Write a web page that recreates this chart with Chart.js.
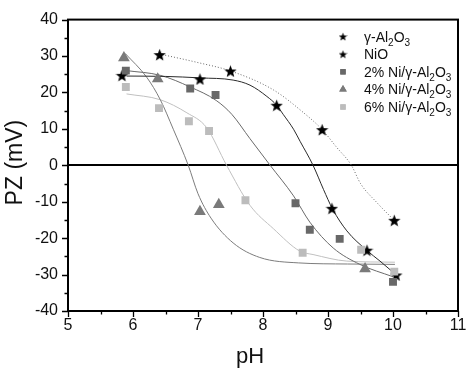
<!DOCTYPE html>
<html><head><meta charset="utf-8">
<script src="https://cdn.jsdelivr.net/npm/chart.js@4.4.1/dist/chart.umd.min.js"></script>
<style>html,body{margin:0;padding:0;background:#fff}#wrap{width:474px;height:375px;position:relative}</style>
</head><body><div id="wrap"><canvas id="c" width="474" height="375"></canvas></div>
<script>
// ---- data ----
const seriesNames = ['γ-Al2O3', 'NiO', '2% Ni/γ-Al2O3', '4% Ni/γ-Al2O3', '6% Ni/γ-Al2O3'];
const xTitle = 'pH';
const yTitle = 'PZ (mV)';

const alPH  = [5.83, 7.03, 8.21, 9.06, 9.60, 10.05];
const alPZ  = [24.7, 23.7, 16.5, -11.8, -23.3, -30.1];
const nioPH = [6.41, 7.50, 8.91, 10.02];
const nioPZ = [30.4, 25.9, 9.8, -15.1];
const ni2PH = [5.89, 6.88, 7.27, 8.50, 8.72, 9.18, 10.00];
const ni2PZ = [26.0, 21.1, 19.3, -10.4, -17.7, -20.2, -32.0];
const ni4PH = [5.86, 6.38, 7.03, 7.32, 9.57];
const ni4PZ = [29.5, 23.7, -12.7, -10.8, -28.4];
const ni6PH = [5.89, 6.40, 6.86, 7.17, 7.73, 8.61, 9.51, 10.02];
const ni6PZ = [21.5, 15.7, 12.1, 9.4, -9.6, -24.0, -23.2, -29.2];

// fitted curves
const alFitPH  = [5.90, 6.50, 7.03, 7.54, 7.80, 8.06, 8.21, 8.31, 8.47, 8.57, 8.77, 8.93, 9.07, 9.29, 9.60, 9.80, 10.05];
const alFitPZ  = [24.5, 24.4, 24.0, 23.4, 22.0, 18.9, 16.5, 14.0, 9.9, 6.6, 0.0, -6.6, -12.0, -18.0, -23.4, -26.3, -30.1];
const nioFitPH = [6.45, 7.00, 7.50, 8.16, 8.62, 8.91, 9.13, 9.36, 9.50, 9.75, 10.00];
const nioFitPZ = [30.4, 28.2, 25.9, 20.7, 14.5, 9.8, 5.0, 0.0, -5.0, -10.2, -14.8];
const ni2FitPH = [5.90, 6.42, 6.88, 7.28, 7.52, 7.80, 8.11, 8.47, 8.72, 9.08, 9.49, 10.00];
const ni2FitPZ = [26.0, 24.7, 21.5, 17.8, 14.0, 7.3, 0.0, -8.4, -15.6, -22.7, -27.2, -30.6];
const ni4FitPH = [5.88, 6.21, 6.42, 6.62, 6.85, 7.00, 7.20, 7.54, 7.95, 8.55, 9.30, 10.03];
const ni4FitPZ = [30.7, 24.2, 18.0, 9.9, 0.0, -7.8, -14.5, -21.3, -25.3, -26.8, -27.1, -27.2];
const ni6FitPH = [5.90, 6.42, 6.83, 7.13, 7.44, 7.80, 8.16, 8.57, 8.77, 9.29, 10.03];
const ni6FitPZ = [19.6, 18.0, 14.4, 10.4, 0.0, -11.0, -17.4, -23.6, -24.5, -26.3, -26.6];

const xTicksMajor = [5, 6, 7, 8, 9, 10, 11];
const yTicksMajor = [-40, -30, -20, -10, 0, 10, 20, 30, 40];

// ---- helpers ----
const FONT = '"Liberation Sans", Arial, Helvetica, sans-serif';
function pts(xs, ys) { return xs.map((x, i) => ({x: x, y: ys[i]})); }
function makeStar(size) {
  const c = document.createElement('canvas');
  c.width = size; c.height = size;
  const g = c.getContext('2d');
  const R = size / 2, r = R * 0.42, cx = size / 2, cy = size / 2 + size * 0.05;
  g.beginPath();
  for (let i = 0; i < 10; i++) {
    const rad = i % 2 === 0 ? R : r;
    const a = -Math.PI / 2 + i * Math.PI / 5;
    const px = cx + rad * Math.cos(a), py = cy + rad * Math.sin(a);
    if (i === 0) g.moveTo(px, py); else g.lineTo(px, py);
  }
  g.closePath(); g.fillStyle = '#000'; g.fill();
  return c;
}
const starBig = makeStar(13);
const starSmall = makeStar(9);

const colStar = '#000000', col2 = '#686868', col4 = '#7a7a7a', col6 = '#bcbcbc';

function fitLine(data, color, dash) {
  return {type: 'scatter', data: data, showLine: true, pointRadius: 0, pointHoverRadius: 0,
    borderColor: color, borderWidth: 1, borderDash: dash || [], fill: false,
    cubicInterpolationMode: 'monotone', order: 5};
}
function markers(data, style, color, radius) {
  return {type: 'scatter', data: data, showLine: false, pointStyle: style, pointRadius: radius,
    pointHoverRadius: radius, backgroundColor: color, borderColor: color, borderWidth: 0, order: 1};
}

const datasets = [
  fitLine(pts(alFitPH, alFitPZ), '#2a2a2a'),
  fitLine(pts(nioFitPH, nioFitPZ), '#666666', [1, 2]),
  fitLine(pts(ni2FitPH, ni2FitPZ), '#6a6a6a'),
  fitLine(pts(ni4FitPH, ni4FitPZ), '#7c7c7c'),
  fitLine(pts(ni6FitPH, ni6FitPZ), '#c0c0c0'),
  Object.assign(markers(pts(ni6PH, ni6PZ), 'rect', col6, 5.6), {label: seriesNames[4]}),
  Object.assign(markers(pts(ni4PH, ni4PZ), 'triangle', col4, 6.8), {label: seriesNames[3]}),
  Object.assign(markers(pts(ni2PH, ni2PZ), 'rect', col2, 5.6), {label: seriesNames[2]}),
  Object.assign(markers(pts(nioPH, nioPZ), starBig, colStar, 6), {label: seriesNames[1]}),
  Object.assign(markers(pts(alPH, alPZ), starBig, colStar, 6), {label: seriesNames[0]})
];

const legendStyles = [
  {style: starSmall, color: colStar, r: 4},
  {style: starSmall, color: colStar, r: 4},
  {style: 'rect', color: col2, r: 3.8},
  {style: 'triangle', color: col4, r: 4.4},
  {style: 'rect', color: col6, r: 3.8}
];

function drawRich(ctx, text, x, y, size) {
  let prev = '';
  for (const ch of text) {
    const sub = /[0-9]/.test(ch) && /[A-Za-z]/.test(prev);
    ctx.font = (sub ? Math.round(size * 0.7) : size) + 'px ' + FONT;
    ctx.fillText(ch, x, sub ? y + 4 : y);
    x += ctx.measureText(ch).width;
    prev = ch;
  }
}

const framePlugin = {
  id: 'frame',
  afterDraw(chart) {
    const ctx = chart.ctx, a = chart.chartArea;
    const xs = chart.scales.x, ys = chart.scales.y;
    ctx.save();
    ctx.strokeStyle = '#000';
    // ticks
    ctx.lineWidth = 1.3;
    ctx.beginPath();
    for (let v = 5; v <= 11.001; v += 0.5) {
      const px = Math.round(xs.getPixelForValue(v)) + 0.5;
      const major = Math.abs(v - Math.round(v)) < 1e-6;
      ctx.moveTo(px, a.bottom); ctx.lineTo(px, a.bottom + (major ? 6 : 3.5));
    }
    for (let v = -40; v <= 40.001; v += 5) {
      const py = Math.round(ys.getPixelForValue(v)) + 0.5;
      const major = v % 10 === 0;
      ctx.moveTo(a.left, py); ctx.lineTo(a.left - (major ? 6 : 3.5), py);
    }
    ctx.stroke();
    // frame
    ctx.lineWidth = 2;
    ctx.strokeRect(a.left, a.top, a.right - a.left, a.bottom - a.top);
    // axis titles
    ctx.fillStyle = '#111';
    ctx.textAlign = 'center'; ctx.textBaseline = 'middle';
    ctx.font = '22px ' + FONT;
    ctx.fillText(xTitle, a.left + 182, a.bottom + 46);
    ctx.save();
    ctx.translate(16, a.top + 143);
    ctx.rotate(-Math.PI / 2);
    ctx.font = '23px ' + FONT;
    ctx.fillText(yTitle, 0, 0);
    ctx.restore();
    // legend
    const mx = a.right - 115, tx = a.right - 94, y0 = a.top + 17, dy = 17.6;
    ctx.textAlign = 'left'; ctx.textBaseline = 'alphabetic';
    legendStyles.forEach((st, i) => {
      const y = y0 + i * dy;
      ctx.fillStyle = st.color; ctx.strokeStyle = st.color;
      Chart.helpers.drawPoint(ctx, {pointStyle: st.style, radius: st.r, rotation: 0, borderWidth: 0}, mx, y);
      ctx.fill();
      ctx.fillStyle = '#111';
      drawRich(ctx, seriesNames[i], tx, y + 5, 14);
    });
    ctx.restore();
  }
};

new Chart(document.getElementById('c'), {
  type: 'scatter',
  data: {datasets: datasets},
  options: {
    responsive: false,
    animation: false,
    events: [],
    layout: {padding: {top: 13, right: 16, left: 0, bottom: 0}},
    plugins: {legend: {display: false}, tooltip: {enabled: false}},
    scales: {
      x: {
        type: 'linear', min: 5, max: 11,
        afterFit(s) { s.height = 64; },
        afterBuildTicks(s) { s.ticks = xTicksMajor.map(v => ({value: v})); },
        ticks: {stepSize: 1, padding: 5, color: '#111', font: {size: 16, family: FONT}},
        grid: {display: false, drawTicks: false},
        border: {display: false},
        title: {display: false, text: xTitle}
      },
      y: {
        type: 'linear', min: -40, max: 40,
        afterFit(s) { s.width = 68; },
        afterBuildTicks(s) { s.ticks = yTicksMajor.map(v => ({value: v})); },
        ticks: {stepSize: 10, padding: 10, color: '#111', font: {size: 16, family: FONT}},
        grid: {display: true, drawTicks: false, drawOnChartArea: true,
          color: (c) => (c.tick && c.tick.value === 0) ? '#000' : 'rgba(0,0,0,0)',
          lineWidth: (c) => (c.tick && c.tick.value === 0) ? 2 : 0},
        border: {display: false},
        title: {display: false, text: yTitle}
      }
    }
  },
  plugins: [framePlugin]
});
</script>
</body></html>
